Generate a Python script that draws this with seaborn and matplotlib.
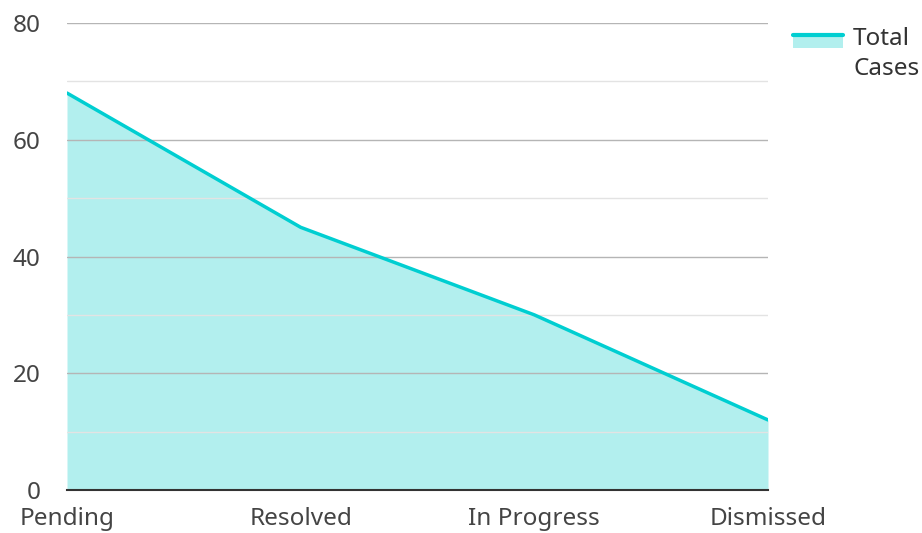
import matplotlib
matplotlib.use("Agg")
import matplotlib.pyplot as plt
import seaborn as sns
import pandas as pd
from matplotlib.patches import Rectangle
from matplotlib.lines import Line2D

# data
status = ["Pending", "Resolved", "In Progress", "Dismissed"]
total_cases = [68, 45, 30, 12]
legend_lines = ["Total", "Cases"]

df = pd.DataFrame({"status": status, "cases": total_cases})
df["pos"] = range(len(df))

sns.set_style("white")
plt.rcParams["font.family"] = ["Noto Sans", "DejaVu Sans"]

line_color = "#00CED1"
fill_color = "#B2EFEE"
W, H = 922, 533

fig = plt.figure(figsize=(9.22, 5.33), dpi=100)
ax = fig.add_axes([67 / W, 1 - 490 / H, (768 - 67) / W, (490 - 23) / H])

ax.fill_between(df["pos"], df["cases"], color=fill_color, zorder=1, lw=0)
sns.lineplot(data=df, x="pos", y="cases", color=line_color, linewidth=2.5, ax=ax, zorder=3)

ax.set_xlim(0, 3)
ax.set_ylim(0, 80)
ax.set_xticks(df["pos"])
ax.set_xticklabels(status)
ax.set_yticks([0, 20, 40, 60, 80])
ax.set_yticks([10, 30, 50, 70], minor=True)
ax.grid(True, which="major", axis="y", color="#b5b5b5", linewidth=1, zorder=2)
ax.grid(True, which="minor", axis="y", color="#e3e3e3", linewidth=1, zorder=2)
ax.set_axisbelow(False)
ax.tick_params(axis="both", which="both", length=0, labelsize=17.5, labelcolor="#444444")
ax.tick_params(axis="y", pad=19)
ax.tick_params(axis="x", pad=12)
ax.set_xlabel("")
ax.set_ylabel("")
for s in ["top", "right", "left"]:
    ax.spines[s].set_visible(False)
ax.spines["bottom"].set_color("#333333")
ax.spines["bottom"].set_linewidth(1.5)
ax.spines["bottom"].set_zorder(4)

# legend, drawn by hand so the swatch lines up with the first text line
fig.add_artist(Rectangle((793 / W, 1 - 47.5 / H), 50 / W, 14.5 / H,
                         transform=fig.transFigure, facecolor=fill_color, edgecolor="none"))
fig.add_artist(Line2D([793 / W, 843 / W], [1 - 34.7 / H, 1 - 34.7 / H],
                      transform=fig.transFigure, color=line_color, linewidth=3))
for i, txt in enumerate(legend_lines):
    fig.text(853 / W, 1 - (45 + 30 * i) / H, txt, fontsize=17.5, color="#333333",
             va="baseline", ha="left")

fig.savefig("out.png", dpi=100)
